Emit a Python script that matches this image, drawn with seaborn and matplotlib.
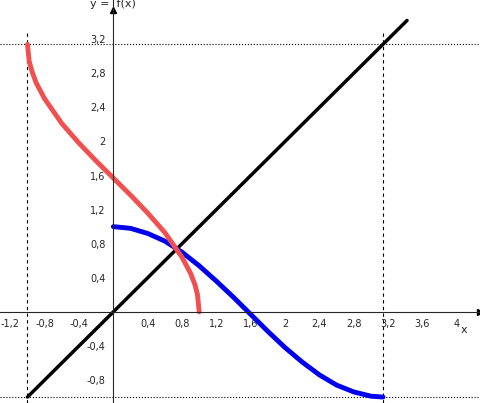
import matplotlib
matplotlib.use("Agg")
import matplotlib.pyplot as plt
import seaborn as sns

# values
blue_x = [0, 0.2, 0.4, 0.6, 0.8, 1.0, 1.2, 1.4, 1.6, 1.8, 2.0, 2.2, 2.4, 2.6, 2.8, 3.0, 3.14]
blue_y = [1.0, 0.98, 0.92, 0.83, 0.70, 0.54, 0.36, 0.17, -0.03, -0.23, -0.42, -0.59, -0.74, -0.86, -0.94, -0.99, -1.0]
red_x = [-1.0, -0.98, -0.95, -0.9, -0.8, -0.6, -0.4, -0.2, 0, 0.2, 0.4, 0.6, 0.8, 0.9, 0.95, 0.98, 1.0]
red_y = [3.14, 2.94, 2.83, 2.69, 2.50, 2.21, 1.98, 1.77, 1.57, 1.37, 1.16, 0.93, 0.64, 0.45, 0.32, 0.20, 0.0]
line_x = [-1.0, 3.42]
line_y = [-1.0, 3.42]
xticks = [-1.2, -0.8, -0.4, 0.4, 0.8, 1.2, 1.6, 2, 2.4, 2.8, 3.2, 3.6, 4]
yticks = [-0.8, -0.4, 0.4, 0.8, 1.2, 1.6, 2, 2.4, 2.8, 3.2]

sns.set_style("white")
fig = plt.figure(figsize=(4.8, 4.03), dpi=100)
ax = fig.add_axes([0, 0, 1, 1])

ax.axhline(3.1416, color="black", ls=":", lw=0.8)
ax.axhline(-1.0, color="black", ls=":", lw=0.8)
ax.axvline(-1.0, ymax=0.92, color="black", ls=(0, (3, 3)), lw=0.8)
ax.axvline(3.1416, ymax=0.92, color="black", ls=(0, (3, 3)), lw=0.8)

sns.lineplot(x=line_x, y=line_y, color="black", lw=2.5, ax=ax)
sns.lineplot(x=blue_x, y=blue_y, color="#0000ee", lw=3.5, sort=False, ax=ax)
sns.lineplot(x=red_x, y=red_y, color="#f05050", lw=3.5, sort=False, ax=ax)

ax.set_xlim(-1.32, 4.27)
ax.set_ylim(-1.07, 3.66)
for s in ["top", "right"]:
    ax.spines[s].set_visible(False)
ax.spines["left"].set_position(("data", 0))
ax.spines["bottom"].set_position(("data", 0))
ax.set_xticks(xticks)
ax.set_xticklabels([str(t).replace(".", ",") for t in xticks], fontsize=7)
ax.set_yticks(yticks)
ax.set_yticklabels([str(t).replace(".", ",") for t in yticks], fontsize=7)
ax.tick_params(axis="x", direction="inout", length=5, pad=3)
ax.tick_params(axis="y", direction="inout", length=5, pad=3)
ax.plot(1, 0, ">k", transform=ax.get_yaxis_transform(), clip_on=False, ms=4)
ax.plot(0, 3.54, "^k", clip_on=False, ms=4)
ax.text(4.04, -0.25, "x", fontsize=8)
ax.text(0, 3.58, "y =  f(x)", fontsize=8, ha="center")
ax.grid(False)

fig.savefig("out.png", dpi=100)
